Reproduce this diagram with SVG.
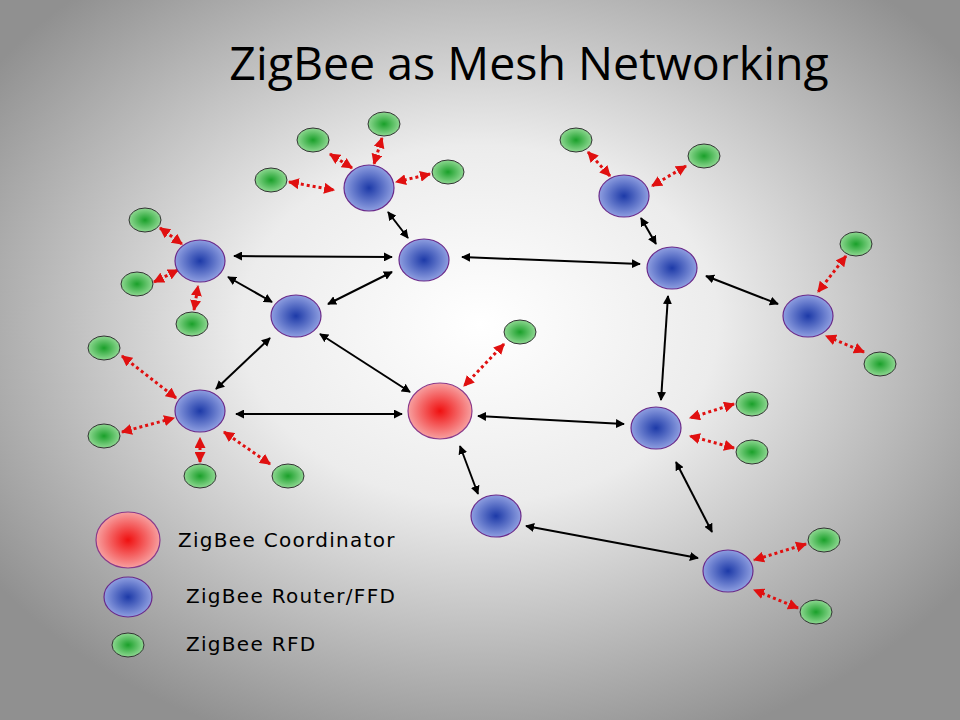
<svg xmlns="http://www.w3.org/2000/svg" width="960" height="720" viewBox="0 0 960 720">
<defs>
<radialGradient id="bg" cx="50%" cy="45%" r="62%"><stop offset="0" stop-color="#ffffff"/><stop offset="0.4" stop-color="#ececec"/><stop offset="1" stop-color="#909090"/></radialGradient>
<radialGradient id="gb"><stop offset="0" stop-color="#1d3aa8"/><stop offset="1" stop-color="#8e9ee0"/></radialGradient>
<radialGradient id="gg"><stop offset="0" stop-color="#1aa02a"/><stop offset="1" stop-color="#8fd892"/></radialGradient>
<radialGradient id="gr"><stop offset="0" stop-color="#f01010"/><stop offset="1" stop-color="#f7a0a0"/></radialGradient>
<marker id="ab" viewBox="0 0 10 10" refX="9" refY="5" markerWidth="9" markerHeight="9" markerUnits="userSpaceOnUse" orient="auto-start-reverse"><path d="M0,0L10,5L0,10z" fill="#000"/></marker>
<marker id="ar" viewBox="0 0 10 10" refX="9" refY="5" markerWidth="11" markerHeight="11" markerUnits="userSpaceOnUse" orient="auto-start-reverse"><path d="M0,0L10,5L0,10z" fill="#e01010"/></marker>
</defs>
<style>
.r{fill:url(#gb);stroke:#6a2a8a;stroke-width:1.2}
.g{fill:url(#gg);stroke:#333;stroke-width:1}
.c{fill:url(#gr);stroke:#8a3a8a;stroke-width:1.2}
.k{stroke:#000;stroke-width:2;marker-start:url(#ab);marker-end:url(#ab);fill:none}
.d{stroke:#e01010;stroke-width:3;stroke-dasharray:3 3;marker-start:url(#ar);marker-end:url(#ar);fill:none}
text{font-family:"Open Sans","Liberation Sans",sans-serif;fill:#000}
.l{font-family:"DejaVu Sans","Liberation Sans",sans-serif;font-size:20px;letter-spacing:1.3px}
</style>
<rect width="960" height="720" fill="url(#bg)"/>
<text x="529" y="80" font-size="46.5" text-anchor="middle">ZigBee as Mesh Networking</text>
<g id="connectors">
<line class="k" x1="388" y1="212" x2="408" y2="238"/>
<line class="k" x1="234" y1="256" x2="392" y2="257"/>
<line class="k" x1="228" y1="277" x2="272" y2="302"/>
<line class="k" x1="328" y1="304" x2="392" y2="272"/>
<line class="k" x1="462" y1="257" x2="640" y2="264"/>
<line class="k" x1="641" y1="218" x2="656" y2="244"/>
<line class="k" x1="270" y1="338" x2="216" y2="389"/>
<line class="k" x1="320" y1="334" x2="410" y2="392"/>
<line class="k" x1="236" y1="414" x2="402" y2="414"/>
<line class="k" x1="478" y1="416" x2="624" y2="424"/>
<line class="k" x1="668" y1="296" x2="661" y2="400"/>
<line class="k" x1="706" y1="276" x2="778" y2="304"/>
<line class="k" x1="460" y1="446" x2="478" y2="494"/>
<line class="k" x1="526" y1="526" x2="698" y2="558"/>
<line class="k" x1="676" y1="462" x2="712" y2="532"/>
<line class="d" x1="330" y1="154" x2="352" y2="168"/>
<line class="d" x1="382" y1="138" x2="374" y2="164"/>
<line class="d" x1="289" y1="182" x2="334" y2="190"/>
<line class="d" x1="430" y1="174" x2="396" y2="182"/>
<line class="d" x1="160" y1="228" x2="182" y2="244"/>
<line class="d" x1="154" y1="282" x2="178" y2="270"/>
<line class="d" x1="194" y1="310" x2="198" y2="286"/>
<line class="d" x1="122" y1="356" x2="176" y2="398"/>
<line class="d" x1="122" y1="432" x2="174" y2="418"/>
<line class="d" x1="200" y1="462" x2="200" y2="438"/>
<line class="d" x1="270" y1="464" x2="224" y2="432"/>
<line class="d" x1="504" y1="344" x2="464" y2="386"/>
<line class="d" x1="588" y1="152" x2="610" y2="176"/>
<line class="d" x1="686" y1="166" x2="652" y2="186"/>
<line class="d" x1="846" y1="256" x2="818" y2="292"/>
<line class="d" x1="864" y1="352" x2="826" y2="336"/>
<line class="d" x1="734" y1="404" x2="690" y2="418"/>
<line class="d" x1="734" y1="448" x2="690" y2="436"/>
<line class="d" x1="806" y1="544" x2="754" y2="560"/>
<line class="d" x1="798" y1="608" x2="754" y2="590"/>
</g>
<g id="coordinator"><ellipse class="c" cx="440" cy="411" rx="32" ry="28"/></g>
<g id="routers">
<ellipse class="r" cx="369" cy="188" rx="25" ry="23"/>
<ellipse class="r" cx="200" cy="261" rx="25" ry="21"/>
<ellipse class="r" cx="424" cy="260" rx="25" ry="21"/>
<ellipse class="r" cx="296" cy="316" rx="25" ry="21"/>
<ellipse class="r" cx="200" cy="411" rx="25" ry="21"/>
<ellipse class="r" cx="624" cy="196" rx="25" ry="21"/>
<ellipse class="r" cx="672" cy="268" rx="25" ry="21"/>
<ellipse class="r" cx="808" cy="316" rx="25" ry="21"/>
<ellipse class="r" cx="656" cy="428" rx="25" ry="21"/>
<ellipse class="r" cx="496" cy="516" rx="25" ry="21"/>
<ellipse class="r" cx="728" cy="571" rx="25" ry="21"/>
</g>
<g id="rfds">
<ellipse class="g" cx="313" cy="140" rx="16" ry="12"/>
<ellipse class="g" cx="384" cy="124" rx="16" ry="12"/>
<ellipse class="g" cx="271" cy="180" rx="16" ry="12"/>
<ellipse class="g" cx="448" cy="172" rx="16" ry="12"/>
<ellipse class="g" cx="145" cy="220" rx="16" ry="12"/>
<ellipse class="g" cx="137" cy="284" rx="16" ry="12"/>
<ellipse class="g" cx="192" cy="324" rx="16" ry="12"/>
<ellipse class="g" cx="104" cy="348" rx="16" ry="12"/>
<ellipse class="g" cx="104" cy="436" rx="16" ry="12"/>
<ellipse class="g" cx="200" cy="476" rx="16" ry="12"/>
<ellipse class="g" cx="288" cy="476" rx="16" ry="12"/>
<ellipse class="g" cx="520" cy="332" rx="16" ry="12"/>
<ellipse class="g" cx="576" cy="140" rx="16" ry="12"/>
<ellipse class="g" cx="704" cy="156" rx="16" ry="12"/>
<ellipse class="g" cx="856" cy="244" rx="16" ry="12"/>
<ellipse class="g" cx="880" cy="364" rx="16" ry="12"/>
<ellipse class="g" cx="752" cy="404" rx="16" ry="12"/>
<ellipse class="g" cx="752" cy="452" rx="16" ry="12"/>
<ellipse class="g" cx="824" cy="540" rx="16" ry="12"/>
<ellipse class="g" cx="816" cy="612" rx="16" ry="12"/>
</g>
<g id="legend">
<ellipse class="c" cx="128" cy="540" rx="32" ry="28"/>
<ellipse class="r" cx="128" cy="597" rx="24" ry="20"/>
<ellipse class="g" cx="128" cy="645" rx="16" ry="12"/>
<text class="l" x="178" y="547">ZigBee Coordinator</text>
<text class="l" x="186" y="603">ZigBee Router/FFD</text>
<text class="l" x="186" y="651">ZigBee RFD</text>
</g>
</svg>
